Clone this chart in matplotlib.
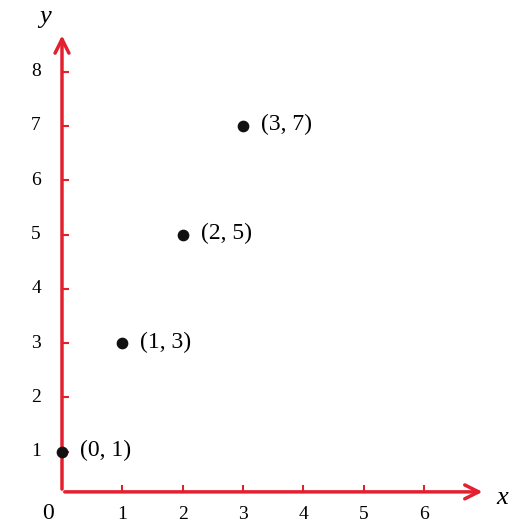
import matplotlib.pyplot as plt

plt.rcParams['font.family'] = ['Liberation Serif', 'DejaVu Serif']

xs = [0, 1, 2, 3]
ys = [1, 3, 5, 7]
point_labels = ['(0, 1)', '(1, 3)', '(2, 5)', '(3, 7)']
x_ticks = [1, 2, 3, 4, 5, 6]
y_ticks = [1, 2, 3, 4, 5, 6, 7, 8]

red = '#e3202f'
axis_y = 0.26  # where the x axis line sits

fig = plt.figure(figsize=(5.24, 5.32), dpi=100)
ax = fig.add_axes([0, 0, 1, 1])
ax.set_xlim(-62 / 60.3, (524 - 62) / 60.3)
ax.set_ylim(-0.479, 9.32)
ax.axis('off')

# axes with arrows
arrow = dict(arrowstyle='->,head_length=1.0,head_width=0.5', color=red, lw=2.5)
ax.annotate('', xy=(7.02, axis_y), xytext=(0, axis_y), arrowprops=arrow)
ax.annotate('', xy=(0, 8.72), xytext=(0, axis_y), arrowprops=arrow)

for t in x_ticks:
    ax.plot([t, t], [axis_y, axis_y + 0.1], color=red, lw=1.5)
    ax.text(t, axis_y - 0.26, str(t), ha='center', va='top', fontsize=14)
for t in y_ticks:
    ax.plot([0, 0.1], [t, t], color=red, lw=1.5)
    ax.text(-0.35, t, str(t), ha='right', va='center', fontsize=14)

ax.text(-0.23, -0.13, '0', ha='center', va='center', fontsize=17)
ax.text(7.3, 0.15, 'x', ha='center', va='center', fontsize=19, style='italic')
ax.text(-0.28, 9.0, 'y', ha='center', va='center', fontsize=19, style='italic')

ax.scatter(xs, ys, s=55, color='#111111', zorder=5)
for x, y, lab in zip(xs, ys, point_labels):
    ax.text(x + 0.3, y + 0.02, lab, ha='left', va='center', fontsize=17)

fig.savefig('out.png', dpi=100)
